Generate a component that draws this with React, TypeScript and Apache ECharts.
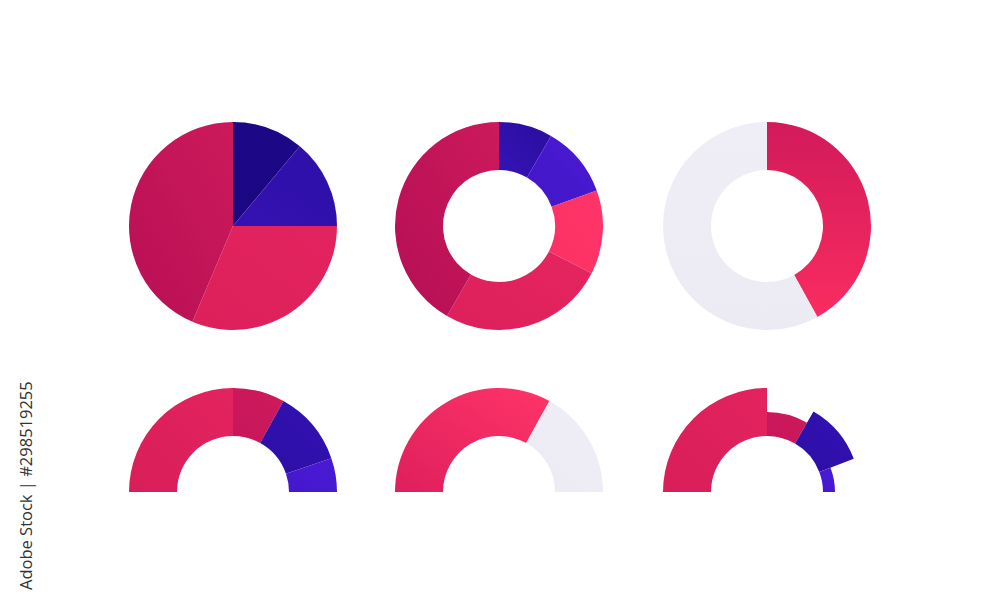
import { useEffect, useRef } from 'react'
import * as echarts from 'echarts'

// 角度 (度) 基准的数据
const pieValues = [40, 50, 113, 157]
const pieColors = [['#1d0889', '#1a0780'], ['#2d0fa6', '#3412b2'], ['#e3235f', '#dc205a'], ['#cc1a5b', '#b80f55']]

const donutValues = [30, 40, 47, 93, 150]
const donutColors = [['#2a0d9e', '#3514b6'], ['#4a1ad4', '#4216c6'], ['#ff3468', '#fb3063'], ['#e6255f', '#dc205b'], ['#cc1a5b', '#b50e55']]

const progressValues = [151, 209]
const progressColors = [['#d21a5b', '#f92c60'], ['#efeef6', '#ecebf4']]

const halfDonutValues = [90, 29, 42, 19]
const halfDonutColors = [['#e3235f', '#d81e59'], ['#cf1a5b', '#c6165a'], ['#3412b2', '#2c0fa6'], ['#4a1ad4', '#4418cc']]

const halfProgressValues = [119, 61]
const halfProgressColors = [['#ff3468', '#de1f5c'], ['#efeef6', '#ecebf4']]

const roseShares = [90, 30, 39, 21]
const roseMagnitudes = [100, 50, 77, 25]
const roseColors = [['#e3235f', '#d81e59'], ['#cf1a5b', '#c6165a'], ['#3412b2', '#2c0fa6'], ['#4a1ad4', '#4418cc']]

const watermarkText = 'Adobe Stock | #298519255'

const grad = (c: string[]) => new echarts.graphic.LinearGradient(1, 0, 0, 1, [
  { offset: 0, color: c[0] },
  { offset: 1, color: c[1] }
])

const hidden = (v: number) => ({ value: v, itemStyle: { color: 'transparent' } })

const baseSeries = {
  type: 'pie',
  silent: true,
  label: { show: false },
  labelLine: { show: false },
  itemStyle: { borderWidth: 0 }
}

const App: React.FC = () => {
  const chartRef = useRef<HTMLDivElement | null>(null)

  useEffect(() => {
    if (chartRef.current === null) return
    const chart = echarts.init(chartRef.current, null, { renderer: 'svg' })

    const inner = 56
    const outer = 104
    const halfSum = (arr: number[]) => arr.reduce((a, b) => a + b, 0)

    // 南丁格尔样式 - 每段单独一个系列
    let acc = 0
    const roseSeries = roseShares.map((s, i) => {
      const start = 180 - acc
      acc += s
      return {
        ...baseSeries,
        center: [767, 492],
        radius: [inner, inner + (outer - inner) * roseMagnitudes[i] / 100],
        startAngle: start,
        data: [
          { value: s, itemStyle: { color: grad(roseColors[i]) } },
          hidden(360 - s)
        ]
      }
    })

    const option = {
      animation: false,
      backgroundColor: '#ffffff',
      graphic: [
        {
          type: 'text',
          x: 25,
          y: 590,
          rotation: Math.PI / 2,
          style: {
            text: watermarkText,
            font: '16.5px "Open Sans"',
            fill: '#333333',
            textAlign: 'left',
            textVerticalAlign: 'middle'
          }
        }
      ],
      series: [
        {
          ...baseSeries,
          center: [233, 226],
          radius: [0, outer],
          startAngle: 90,
          data: pieValues.map((v, i) => ({ value: v, itemStyle: { color: grad(pieColors[i]) } }))
        },
        {
          ...baseSeries,
          center: [499, 226],
          radius: [inner, outer],
          startAngle: 90,
          data: donutValues.map((v, i) => ({ value: v, itemStyle: { color: grad(donutColors[i]) } }))
        },
        {
          ...baseSeries,
          center: [767, 226],
          radius: [inner, outer],
          startAngle: 90,
          data: progressValues.map((v, i) => ({
            value: v,
            itemStyle: {
              color: new echarts.graphic.LinearGradient(0, 0, 0, 1, [
                { offset: 0, color: progressColors[i][0] },
                { offset: 1, color: progressColors[i][1] }
              ])
            }
          }))
        },
        {
          ...baseSeries,
          center: [233, 492],
          radius: [inner, outer],
          startAngle: 180,
          data: [
            ...halfDonutValues.map((v, i) => ({ value: v, itemStyle: { color: grad(halfDonutColors[i]) } })),
            hidden(halfSum(halfDonutValues))
          ]
        },
        {
          ...baseSeries,
          center: [499, 492],
          radius: [inner, outer],
          startAngle: 180,
          data: [
            ...halfProgressValues.map((v, i) => ({
              value: v,
              itemStyle: {
                color: new echarts.graphic.LinearGradient(1, 0, 0, 1, [
                  { offset: 0, color: halfProgressColors[i][0] },
                  { offset: 1, color: halfProgressColors[i][1] }
                ])
              }
            })),
            hidden(halfSum(halfProgressValues))
          ]
        },
        ...roseSeries
      ]
    }

    chart.setOption(option as any)
    return () => {
      chart.dispose()
    }
  }, [])

  return (
    <div
      ref={chartRef}
      style={{ position: 'absolute', left: 0, top: 0, width: 1000, height: 614 }}
    ></div>
  )
}

export default App
